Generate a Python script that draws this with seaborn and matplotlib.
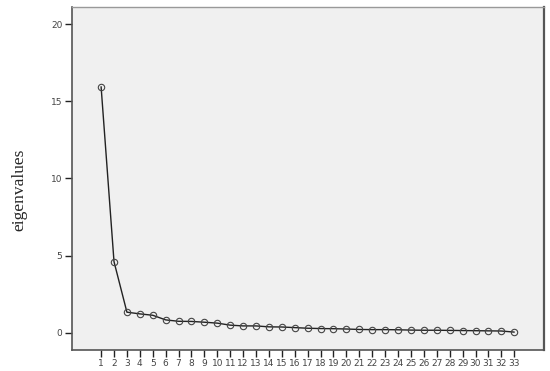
import numpy as np
import pandas as pd
import matplotlib
matplotlib.use("Agg")
import matplotlib.pyplot as plt
import seaborn as sns

components = list(range(1, 34))
eigenvalues = [15.94, 4.61, 1.34, 1.23, 1.14, 0.84, 0.75, 0.74, 0.69, 0.63,
               0.50, 0.45, 0.45, 0.39, 0.38, 0.34, 0.30, 0.28, 0.27, 0.25,
               0.22, 0.21, 0.21, 0.20, 0.18, 0.17, 0.17, 0.16, 0.15, 0.14,
               0.13, 0.12, 0.05]
y_ticks = [0, 5, 10, 15, 20]

df = pd.DataFrame({"component": components, "eigenvalue": eigenvalues})

sns.set_style("white")
fig = plt.figure(figsize=(5.5, 3.71), dpi=100)
ax = fig.add_axes([0.131, 0.057, 0.858, 0.924])
ax.set_facecolor("#f0f0f0")

sns.lineplot(data=df, x="component", y="eigenvalue", ax=ax, color="#222222",
             linewidth=1.0, marker="o", markersize=4.6, markerfacecolor="none",
             markeredgecolor="#444444", markeredgewidth=0.8)

ax.set_xlim(-1.25, 35.3)
ax.set_ylim(-1.1, 21.1)
ax.set_xticks(components)
ax.set_xticklabels([str(c) for c in components])
ax.set_yticks(y_ticks)
ax.tick_params(axis="both", bottom=True, left=True, labelsize=6.5,
               labelcolor="#444444", colors="#222222",
               length=5, width=1.0, direction="out", pad=2)
ax.tick_params(axis="x", pad=1.5)
ax.set_xlabel("")
ax.set_ylabel("eigenvalues", family="Liberation Serif", fontsize=12.5)
ax.yaxis.set_label_coords(-0.095, 0.466)

for side in ["left", "bottom", "right"]:
    ax.spines[side].set_color("#555555")
    ax.spines[side].set_linewidth(1.2)
ax.spines["top"].set_color("#999999")
ax.spines["top"].set_linewidth(1.0)
ax.spines["right"].set_linewidth(1.6)

fig.savefig("out.png", dpi=100)
